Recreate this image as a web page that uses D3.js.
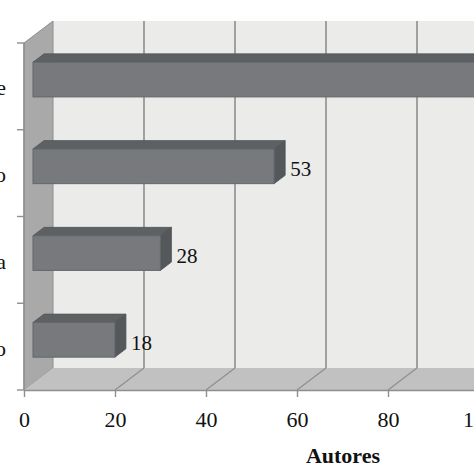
<!DOCTYPE html>
<html>
<head>
<meta charset="utf-8">
<title>Autores</title>
<script src="https://cdn.jsdelivr.net/npm/d3@7"></script>
<style>
  body { margin: 0; background: #fff; }
  svg text { font-family: "Liberation Serif", "Times New Roman", serif; fill: #111; }
</style>
</head>
<body>
<div id="chart"></div>
<script>
// data
let categories = ["Análise", "Estudo de caso", "Pesquisa", "Ensaio teórico"];
let values = [100, 53, 28, 18];
let xTicks = [0, 20, 40, 60, 80, 100];
let axisTitle = "Autores";

let W = 474, H = 474;
// 3d depth offset of the back wall
let DX = 29, DY = -22;
let f0 = 0.31, f1 = 0.69;   // bar depth, fraction of the box

let x = d3.scaleLinear().domain([0, 100]).range([24, 479]);
let y = d3.scaleBand().domain(categories).range([43, 390])
    .paddingInner(0.6).paddingOuter(0.3);

let svg = d3.select("#chart").append("svg")
    .attr("width", W).attr("height", H);

let x0 = x(0), x1 = x(100), yTop = 43, yBot = 390;

// back wall
svg.append("rect")
    .attr("x", x0 + DX).attr("y", yTop + DY)
    .attr("width", x1 - x0).attr("height", yBot - yTop)
    .attr("fill", "#ebebea");

// left wall
svg.append("polygon")
    .attr("points", [[x0, yTop], [x0 + DX, yTop + DY], [x0 + DX, yBot + DY], [x0, yBot]].join(" "))
    .attr("fill", "#a9a9a9").attr("stroke", "#8e8e8e").attr("stroke-width", 1);

// floor
svg.append("polygon")
    .attr("points", [[x0, yBot], [x0 + DX, yBot + DY], [x1 + DX, yBot + DY], [x1, yBot]].join(" "))
    .attr("fill", "#c1c1c1");

// gridlines on back wall + floor
let grid = xTicks.filter(d => d > 0);
svg.selectAll(".gridv").data(grid).enter().append("line")
    .attr("x1", d => x(d) + DX).attr("x2", d => x(d) + DX)
    .attr("y1", yTop + DY).attr("y2", yBot + DY)
    .attr("stroke", "#8e8e8e").attr("stroke-width", 1.6);
svg.selectAll(".gridf").data(grid).enter().append("line")
    .attr("x1", d => x(d)).attr("x2", d => x(d) + DX)
    .attr("y1", yBot).attr("y2", yBot + DY)
    .attr("stroke", "#8e8e8e").attr("stroke-width", 1.2);

// bars
let bars = svg.selectAll(".bar").data(values).enter().append("g");
let bw = y.bandwidth();
let ddx = (f1 - f0) * DX, ddy = (f1 - f0) * DY;

bars.each(function(v, i) {
    let g = d3.select(this);
    let bx0 = x(0) + f0 * DX, bx1 = x(v) + f0 * DX;
    let by0 = y(categories[i]) + f0 * DY, by1 = by0 + bw;
    // top face
    g.append("polygon")
        .attr("points", [[bx0, by0], [bx0 + ddx, by0 + ddy], [bx1 + ddx, by0 + ddy], [bx1, by0]].join(" "))
        .attr("fill", "#5d6163").attr("stroke", "#54585a").attr("stroke-width", 0.8);
    // right face
    g.append("polygon")
        .attr("points", [[bx1, by0], [bx1 + ddx, by0 + ddy], [bx1 + ddx, by1 + ddy], [bx1, by1]].join(" "))
        .attr("fill", "#54585b").attr("stroke", "#4e5254").attr("stroke-width", 0.8);
    // front face
    g.append("rect")
        .attr("x", bx0).attr("y", by0).attr("width", bx1 - bx0).attr("height", bw)
        .attr("fill", "#77797c").attr("stroke", "#63676a").attr("stroke-width", 1);
    // value label
    g.append("text")
        .attr("x", x(v) + f1 * DX + 5)
        .attr("y", by0 + bw / 2 + 10)
        .attr("font-size", 21)
        .text(v);
});

// x axis
let xAxis = d3.axisBottom(x).tickValues(xTicks).tickSize(7).tickSizeOuter(0);
let xg = svg.append("g").attr("transform", "translate(0," + yBot + ")").call(xAxis);
xg.select(".domain").attr("stroke", "#8e8e8e").attr("stroke-width", 1.4);
xg.selectAll(".tick line").attr("stroke", "#8e8e8e").attr("stroke-width", 1.4);
xg.selectAll(".tick text").attr("dy", null).attr("y", 37)
    .attr("font-size", 22).attr("fill", "#111")
    .style("font-family", "'Liberation Serif', 'Times New Roman', serif");

// y axis (ticks on category boundaries)
let bounds = d3.range(categories.length + 1).map(i => yTop + i * y.step());
svg.append("line")
    .attr("x1", x0).attr("x2", x0).attr("y1", yTop).attr("y2", yBot)
    .attr("stroke", "#8e8e8e").attr("stroke-width", 1.4);
svg.selectAll(".ytick").data(bounds).enter().append("line")
    .attr("x1", x0 - 7).attr("x2", x0).attr("y1", d => d).attr("y2", d => d)
    .attr("stroke", "#8e8e8e").attr("stroke-width", 1.4);

svg.selectAll(".cat").data(categories).enter().append("text")
    .attr("x", 6)
    .attr("y", d => y(d) + bw / 2 + 9)
    .attr("text-anchor", "end")
    .attr("font-size", 22)
    .text(d => d);

// axis title
svg.append("text")
    .attr("x", 343).attr("y", 463)
    .attr("text-anchor", "middle")
    .attr("font-size", 22).attr("font-weight", "bold")
    .text(axisTitle);
</script>
</body>
</html>
